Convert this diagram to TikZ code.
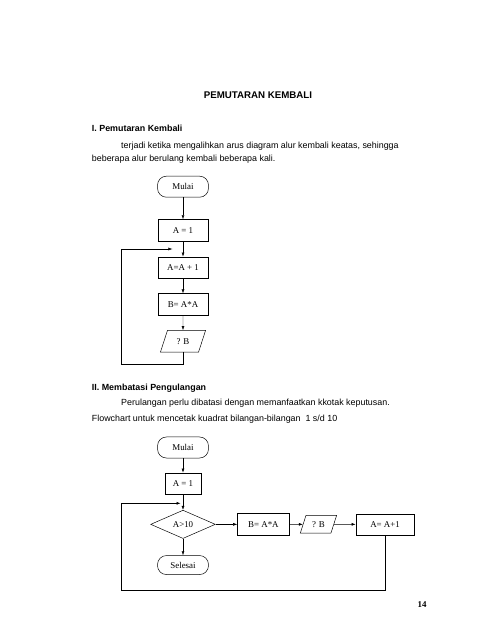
\documentclass[tikz,border=0pt]{standalone}
\usepackage{fontspec}
\setmainfont{Liberation Serif}
\setsansfont{Liberation Sans}
\usepackage{tikz}
\usetikzlibrary{shapes.geometric, arrows.meta, positioning}

\begin{document}
\begin{tikzpicture}[
    x=1.2364pt, y=-1.2364pt,
    >={Latex[length=5pt, width=3.6pt]},
    line width=0.6pt,
    % Node styles
    startstop/.style={rectangle, rounded corners=11pt, minimum width=63pt, minimum height=26pt,
                      text centered, draw=black, font=\fontsize{11}{13}\selectfont},
    process/.style={rectangle, minimum width=62pt, minimum height=27pt,
                    text centered, draw=black, font=\fontsize{11}{13}\selectfont},
    io/.style={trapezium, trapezium left angle=70, trapezium right angle=110, trapezium stretches=true,
               minimum width=56pt, minimum height=27pt, text centered, draw=black, font=\fontsize{11}{13}\selectfont},
    decision/.style={diamond, minimum width=80pt, minimum height=35pt, inner sep=0pt,
                     text centered, draw=black, font=\fontsize{11}{13}\selectfont},
    arrow/.style={->},
    heading/.style={anchor=base west, inner sep=0pt, font=\sffamily\bfseries\fontsize{11}{13}\selectfont},
    body/.style={anchor=base west, inner sep=0pt, font=\sffamily\fontsize{11}{13}\selectfont}
]
\useasboundingbox (0,0) rectangle (495,640);

% Page text
\node (title) [anchor=base, inner sep=0pt, font=\sffamily\bfseries\fontsize{12}{14}\selectfont] at (258,99) {PEMUTARAN KEMBALI};
\node (sec1) [heading] at (91.7,131.7) {I. Pemutaran Kembali};
\node (par1a) [body] at (121,149) {terjadi ketika mengalihkan arus diagram alur kembali keatas, sehingga};
\node (par1b) [body] at (91.7,161.5) {beberapa alur berulang kembali beberapa kali.};
\node (sec2) [heading] at (91.7,390) {II. Membatasi Pengulangan};
\node (par2a) [body] at (121,405.5) {Perulangan perlu dibatasi dengan memanfaatkan kkotak keputusan.};
\node (par2b) [body] at (91.7,421) {Flowchart untuk mencetak kuadrat bilangan-bilangan \ 1 s/d 10};
\node (page) [font=\bfseries\fontsize{11}{13}\selectfont] at (422,605) {14};

% Flowchart 1: loop back
\node (mulai1) [startstop] at (183,186.7) {Mulai};
\node (init1) [process, below=27pt of mulai1] {A = 1};
\node (incr1) [process, below=18.5pt of init1] {A=A + 1};
\node (square1) [process, below=18pt of incr1] {B= A*A};
\node (print1) [io, below=17.7pt of square1] {? B};
\coordinate (join1) at (183,249);
\coordinate (corner1) at (121,364.3);

% Flowchart 2: limited loop
\node (mulai2) [startstop] at (183,447.5) {Mulai};
\node (init2) [process, minimum width=44.5pt, below=17.8pt of mulai2] {A = 1};
\node (cek) [decision, below=18.5pt of init2] {A>10};
\node (square2) [process, minimum width=64pt, right=26.8pt of cek] {B= A*A};
\node (print2) [io, minimum width=45pt, minimum height=22pt, right=16.5pt of square2] {? B};
\node (incr2) [process, minimum width=72pt, minimum height=26pt, right=26.8pt of print2] {A= A+1};
\node (selesai) [startstop, minimum height=23.5pt, below=20.5pt of cek] {Selesai};
\coordinate (join2) at (183,503.3);
\coordinate (corner2) at (121,590);

% Arrows
\draw [arrow] (mulai1) -- (init1);
\draw [arrow] (init1) -- (incr1);
\draw [arrow] (incr1) -- (square1);
\draw [arrow] (square1) -- (print1);
\draw [arrow, shorten >=13pt] (print1.south) |- (corner1) |- (join1);

\draw [arrow] (mulai2) -- (init2);
\draw [arrow] (init2) -- (cek);
\draw [arrow] (cek) -- (square2);
\draw [arrow] (square2) -- (print2);
\draw [arrow] (print2) -- (incr2);
\draw [arrow] (cek) -- (selesai);
\draw [arrow, shorten >=3pt] (incr2.south) |- (corner2) |- (join2);

\end{tikzpicture}
\end{document}
